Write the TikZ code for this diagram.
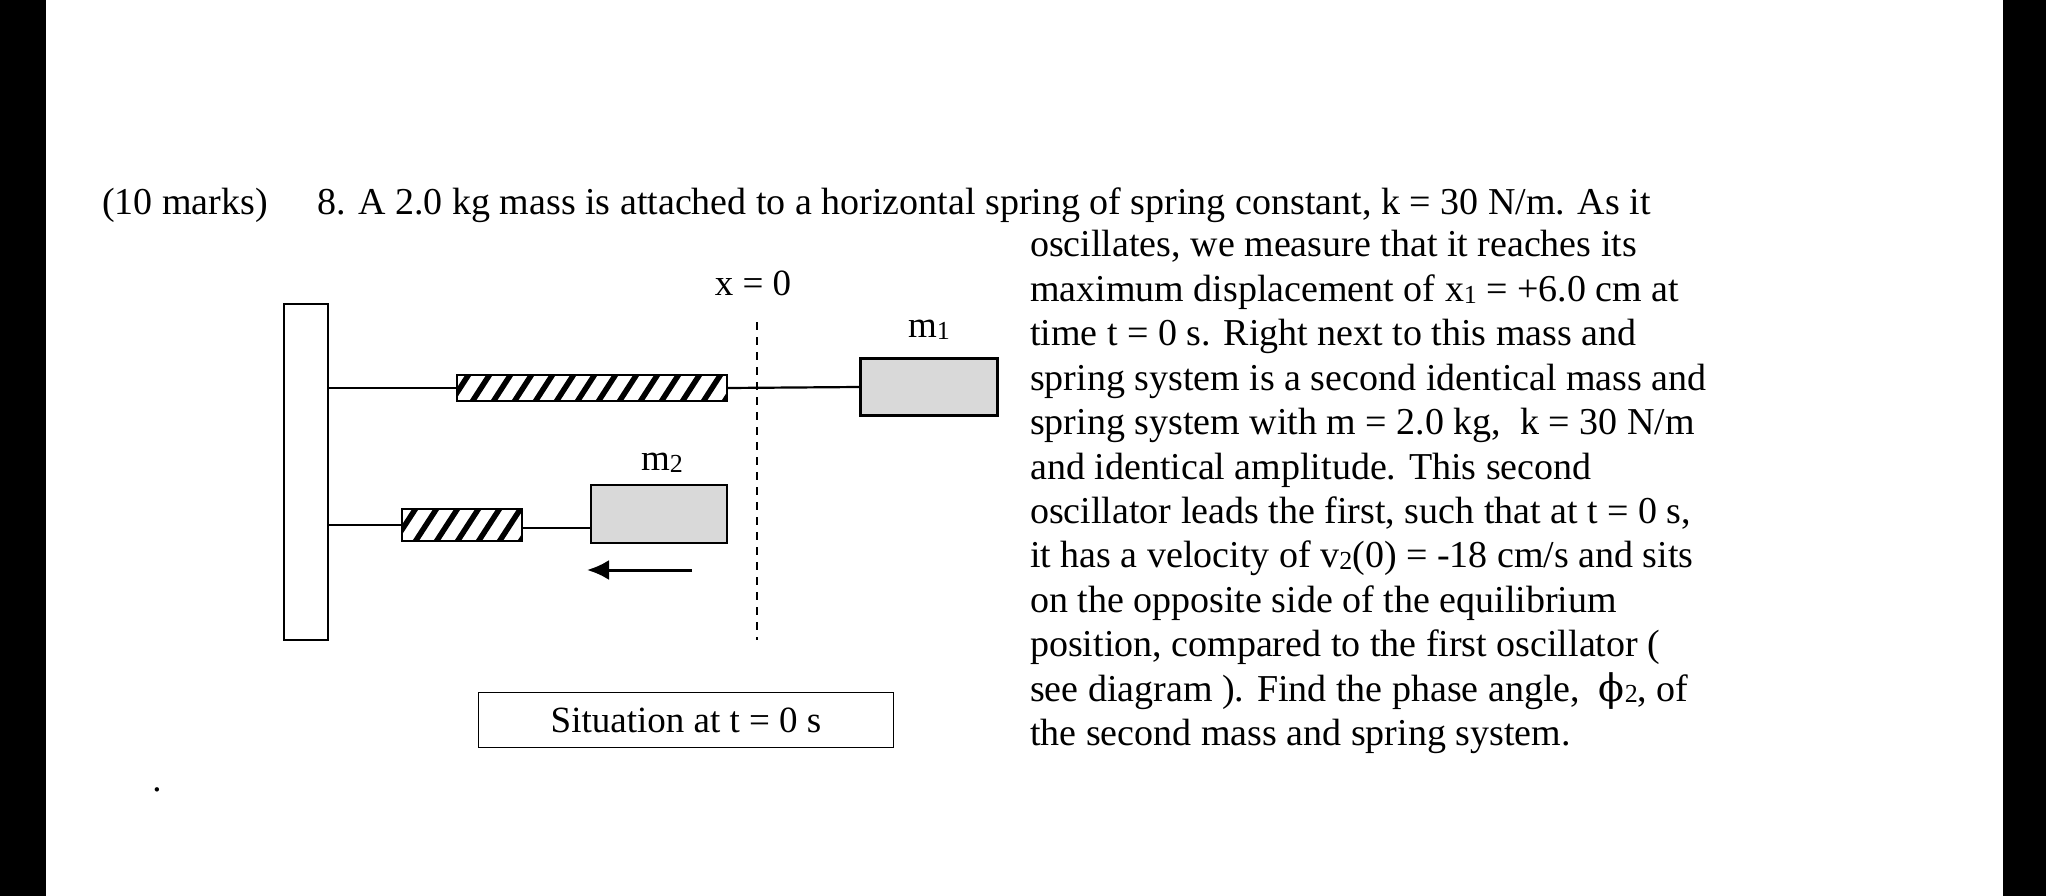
\documentclass[tikz,border=0pt]{standalone}
\usepackage{fontspec}
\usetikzlibrary{arrows.meta}
\setmainfont{Liberation Serif}
\newfontfamily\phifont{DejaVu Serif}
\begin{document}
\begin{tikzpicture}[x=1pt,y=-1pt,
  txt/.style={anchor=base west,inner sep=0pt,font=\fontsize{38}{44}\selectfont},
  lbl/.style={inner sep=0pt,font=\fontsize{37}{44}\selectfont},
  ln/.style={line width=2.2pt},
  massbox/.style={draw,line width=2.4pt,fill=black!15}]
\useasboundingbox (0,0) rectangle (2046,896);
\fill[black] (0,0) rectangle (46,896);
\fill[black] (2003,0) rectangle (2046,896);
\newcommand\sbs[1]{\raisebox{-0.05em}{\fontsize{26}{26}\selectfont #1}}
\node[txt] (h0) at (102,215) {(10 marks)};
\node[txt] (h1) at (317,215) {8. A 2.0 kg mass is attached to a horizontal spring of spring constant, k = 30 N/m. As it};
\foreach \t [count=\i from 0] in {
 {oscillates, we measure that it reaches its},
 {maximum displacement of x\sbs{1} = +6.0 cm at},
 {time t = 0 s. Right next to this mass and},
 {spring system is a second identical mass and},
 {spring system with m = 2.0 kg,\ \ k = 30 N/m},
 {and identical amplitude. This second},
 {oscillator leads the first, such that at t = 0 s,},
 {it has a velocity of v\sbs{2}(0) = -18 cm/s and sits},
 {on the opposite side of the equilibrium},
 {position, compared to the first oscillator (},
 {see diagram ). Find the phase angle,\ \ {\phifont ϕ}\sbs{2}, of},
 {the second mass and spring system.}}
 \node[txt] (r\i) at (1030,{257+44.4*\i}) {\t};
% diagram
\node[draw,line width=2.4pt,minimum width=44pt,minimum height=336pt,inner sep=0pt] (wall) at (306,472) {};
\node[draw,line width=2.4pt,minimum width=270pt,minimum height=26pt,inner sep=0pt] (sp1) at (592,388) {};
\begin{scope}
\clip (457,375) rectangle (727,401);
\foreach \k in {0,...,14} \draw[line width=5.5pt] ({457+21*\k-8},405) -- ({457+21*\k+14},371);
\end{scope}
\node[draw,line width=2.4pt,minimum width=270pt,minimum height=26pt,inner sep=0pt] at (592,388) {};
\node[massbox,minimum width=137pt,minimum height=57pt,inner sep=0pt] (m1) at (929,387) {};
\node[draw,line width=2.4pt,minimum width=120pt,minimum height=32pt,inner sep=0pt] (sp2) at (462,525) {};
\begin{scope}
\clip (402,509) rectangle (522,541);
\foreach \k in {0,...,7} \draw[line width=5.5pt] ({402+21*\k-10},545) -- ({402+21*\k+16},505);
\end{scope}
\node[draw,line width=2.4pt,minimum width=120pt,minimum height=32pt,inner sep=0pt] at (462,525) {};
\node[massbox,minimum width=136pt,minimum height=58pt,inner sep=0pt] (m2) at (659,514) {};
\coordinate (w1) at (wall.east |- sp1.west);
\coordinate (w2) at (wall.east |- sp2.west);
\draw[ln] (w1) -- (sp1.west);
\draw[ln] (sp1.east) -- (m1.west);
\draw[ln] (w2) -- (sp2.west);
\draw[ln] (sp2.east |- 0,528) -- (m2.west |- 0,528);
\coordinate (d0) at (757,322);
\coordinate (d1) at (757,640);
\draw[line width=2.6pt,dash pattern=on 8pt off 7pt] (d0) -- (d1);
\node[lbl] (x0) at (753,283) {x = 0};
\node[lbl] (l1) at (929,330) {m\sbs{1}};
\node[lbl] (l2) at (662,463) {m\sbs{2}};
\coordinate (a0) at (692,570);
\coordinate (a1) at (587,570);
\draw[line width=3pt,-{Latex[length=22pt,width=20pt]}] (a0) -- (a1);
\node[draw,line width=1.6pt,minimum width=415pt,minimum height=55pt,lbl] (sit) at (686,720) {Situation at t = 0 s};
\node[lbl] (dot) at (157,790) {.};
\end{tikzpicture}
\end{document}
